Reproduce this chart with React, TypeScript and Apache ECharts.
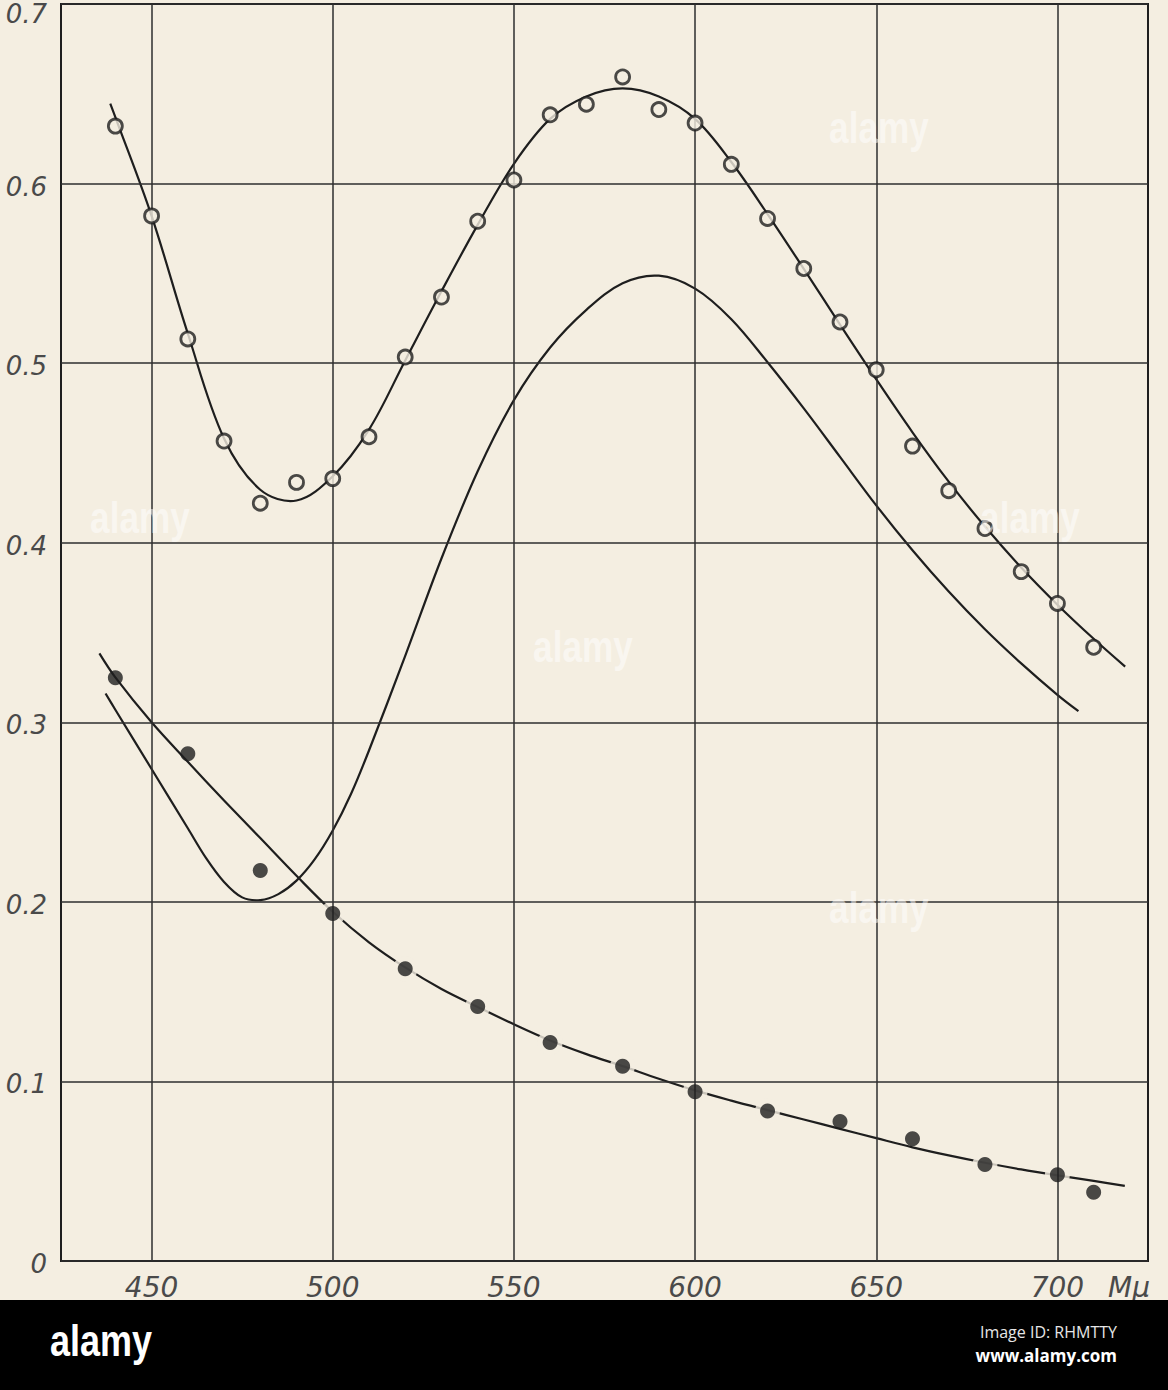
import React, { useEffect, useRef } from "react";
import * as echarts from "echarts";

const BG = "#f4eee1";
const INK = "#1e1e1e";
const LABEL = "#4a4a4a";

// axis ticks
const xTicks = [450, 500, 550, 600, 650, 700];
const yMin = 0;
const yMax = 0.7;
const yStep = 0.1;
const xMin = 425;
const xMax = 725;

// open circles (measured points)
const circleWavelengths = [440, 450, 460, 470, 480, 490, 500, 510, 520, 530, 540, 550, 560, 570, 580, 590, 600, 610, 620, 630, 640, 650, 660, 670, 680, 690, 700, 710];
const circleValues = [0.632, 0.582, 0.5135, 0.4566, 0.422, 0.4336, 0.4357, 0.459, 0.5034, 0.5368, 0.579, 0.602, 0.6383, 0.6442, 0.6594, 0.6412, 0.6337, 0.6107, 0.5806, 0.5527, 0.5229, 0.4963, 0.4538, 0.429, 0.4079, 0.3839, 0.3662, 0.3418];

// filled dots (measured points)
const dotWavelengths = [440, 460, 480, 500, 520, 540, 560, 580, 600, 620, 640, 660, 680, 700, 710];
const dotValues = [0.3248, 0.2825, 0.2174, 0.1935, 0.1627, 0.1417, 0.1217, 0.1085, 0.0943, 0.0835, 0.0777, 0.0681, 0.0538, 0.048, 0.0383];
// dots where the drawn curve is broken around the dot
const brokenAt = [500, 520, 540, 560, 580, 600, 620, 680, 700];

// fitted curve through open circles
const upperCurveX = [438.6, 440, 450, 460, 470, 480, 490, 500, 510, 520, 530, 540, 550, 560, 570, 580, 590, 600, 610, 620, 630, 640, 650, 660, 670, 680, 690, 700, 710, 718.7];
const upperCurveY = [0.6445, 0.637, 0.582, 0.5165, 0.458, 0.4295, 0.4235, 0.437, 0.463, 0.5015, 0.540, 0.577, 0.611, 0.636, 0.6485, 0.653, 0.6485, 0.636, 0.612, 0.583, 0.5525, 0.5215, 0.491, 0.4615, 0.434, 0.409, 0.3862, 0.3655, 0.3465, 0.331];

// middle curve (no points)
const middleCurveX = [437.3, 440, 450, 460, 465, 470, 475, 480, 485, 490, 495, 500, 505, 510, 520, 530, 540, 550, 560, 570, 580, 590, 600, 610, 620, 630, 640, 650, 660, 670, 680, 690, 700, 705.8];
const middleCurveY = [0.316, 0.307, 0.274, 0.241, 0.2245, 0.2111, 0.2025, 0.201, 0.2043, 0.2118, 0.2236, 0.2397, 0.2599, 0.2843, 0.337, 0.3912, 0.4398, 0.4794, 0.5087, 0.5297, 0.5445, 0.5487, 0.5415, 0.5245, 0.5005, 0.4748, 0.4478, 0.4208, 0.3958, 0.3728, 0.3518, 0.3328, 0.3153, 0.3062];

// lower curve through filled dots
const lowerCurveX = [435.6, 440, 450, 460, 470, 480, 490, 500, 510, 520, 530, 540, 550, 560, 570, 580, 590, 600, 610, 620, 630, 640, 650, 660, 670, 680, 690, 700, 710, 718.6];
const lowerCurveY = [0.3384, 0.325, 0.300, 0.278, 0.2565, 0.2355, 0.2145, 0.1945, 0.1775, 0.1635, 0.1515, 0.1415, 0.1318, 0.1228, 0.1152, 0.1085, 0.1015, 0.095, 0.0893, 0.084, 0.0788, 0.0736, 0.0684, 0.0633, 0.0588, 0.0547, 0.051, 0.0477, 0.0446, 0.0418];

const pairs = (xs: number[], ys: number[]) => xs.map((x, i) => [x, ys[i]]);

const labelFont = {
  fontFamily: "DejaVu Sans",
  fontStyle: "italic" as const,
  color: LABEL,
};

// faint stock watermark words overlaid on the scan (centre positions)
const watermarkSpots = [
  [879, 128],
  [140, 518],
  [1030, 518],
  [583, 647],
  [879, 908],
];

export default function App() {
  const ref = useRef<HTMLDivElement>(null);

  useEffect(() => {
    if (!ref.current) return;
    const chart = echarts.init(ref.current, null, { renderer: "svg" });

    // one smooth curve drawn through the axis scales (no control-point clamping)
    const curveSeries = (xs: number[], ys: number[]) => {
      const pts = pairs(xs, ys);
      return {
        type: "custom",
        coordinateSystem: "cartesian2d",
        data: pts,
        encode: { x: 0, y: 1 },
        silent: true,
        z: 2,
        renderItem: (params: any, api: any) => {
          if (params.dataIndex !== 0) return null;
          return {
            type: "polyline",
            shape: { points: pts.map((p) => api.coord(p)), smooth: 0.35 },
            style: { stroke: INK, lineWidth: 2.2, fill: null, lineJoin: "round" },
          };
        },
      };
    };

    const haloData = dotWavelengths
      .map((w, i) => [w, dotValues[i]])
      .filter((p) => brokenAt.includes(p[0]));

    const watermarks = watermarkSpots.map(([cx, cy]) => ({
      type: "text",
      x: cx,
      y: cy,
      scaleX: 0.8,
      z: 9,
      silent: true,
      style: {
        text: "alamy",
        fill: "rgba(255,255,255,0.5)",
        font: 'bold 44px "Liberation Sans"',
        align: "center",
        verticalAlign: "middle",
      },
    }));

    chart.setOption({
      animation: false,
      backgroundColor: BG,
      grid: {
        left: 61,
        right: 20,
        top: 4,
        bottom: 129,
        show: true,
        borderColor: INK,
        borderWidth: 2,
        outerBoundsMode: "none",
      },
      xAxis: {
        type: "value",
        min: xMin,
        max: xMax,
        z: 3,
        axisLine: { show: false },
        axisTick: { show: false, customValues: xTicks },
        axisLabel: {
          ...labelFont,
          customValues: xTicks,
          fontSize: 28,
          margin: 12,
        },
        splitLine: { show: true, lineStyle: { color: "#2e2e2e", width: 1.5 } },
        name: "Mμ",
        nameLocation: "end",
        nameGap: -40,
        nameTextStyle: {
          ...labelFont,
          fontSize: 28,
          align: "left",
          verticalAlign: "top",
          padding: [12, 0, 0, 0],
        },
      },
      yAxis: {
        type: "value",
        min: yMin,
        max: yMax,
        interval: yStep,
        z: 3,
        axisLine: { show: false },
        axisTick: { show: false },
        axisLabel: {
          ...labelFont,
          fontSize: 26,
          margin: 14,
          padding: [6, 0, 0, 0],
          formatter: (v: number) =>
            v === 0 ? "0" : v >= yMax - 1e-9 ? "{top|" + v.toFixed(1) + "}" : v.toFixed(1),
          rich: {
            top: {
              ...labelFont,
              fontSize: 26,
              padding: [14, 0, 0, 0],
            },
          },
        },
        splitLine: { show: true, lineStyle: { color: "#2e2e2e", width: 1.5 } },
      },
      series: [
        curveSeries(upperCurveX, upperCurveY),
        curveSeries(middleCurveX, middleCurveY),
        curveSeries(lowerCurveX, lowerCurveY),
        {
          type: "scatter",
          data: haloData,
          symbol: "circle",
          symbolSize: 25,
          itemStyle: { color: BG },
          z: 2,
          silent: true,
        },
        {
          type: "scatter",
          data: pairs(dotWavelengths, dotValues),
          symbol: "circle",
          symbolSize: 15,
          itemStyle: { color: INK },
          z: 4,
          silent: true,
        },
        {
          type: "scatter",
          data: pairs(circleWavelengths, circleValues),
          symbol: "circle",
          symbolSize: 14,
          itemStyle: { color: BG, borderColor: INK, borderWidth: 2.8 },
          z: 4,
          silent: true,
        },
      ],
      graphic: [
        ...watermarks,
        {
          type: "rect",
          left: 0,
          top: 1300,
          shape: { width: 1168, height: 90 },
          style: { fill: "#000" },
          z: 10,
        },
        {
          type: "text",
          x: 50,
          y: 1318,
          scaleX: 0.8,
          z: 11,
          style: {
            text: "alamy",
            fill: "#fff",
            font: 'bold 45px "Liberation Sans"',
            verticalAlign: "top",
            align: "left",
          },
        },
        {
          type: "text",
          x: 1117,
          y: 1332,
          z: 11,
          style: {
            text: "Image ID: RHMTTY",
            fill: "#e6e6e6",
            font: '16px "Open Sans"',
            align: "right",
            verticalAlign: "middle",
          },
        },
        {
          type: "text",
          x: 1117,
          y: 1355,
          z: 11,
          style: {
            text: "www.alamy.com",
            fill: "#fff",
            font: 'bold 17px "Open Sans"',
            align: "right",
            verticalAlign: "middle",
          },
        },
      ],
    });

    return () => chart.dispose();
  }, []);

  return (
    <div
      ref={ref}
      style={{ position: "absolute", left: 0, top: 0, width: 1168, height: 1390 }}
    />
  );
}
